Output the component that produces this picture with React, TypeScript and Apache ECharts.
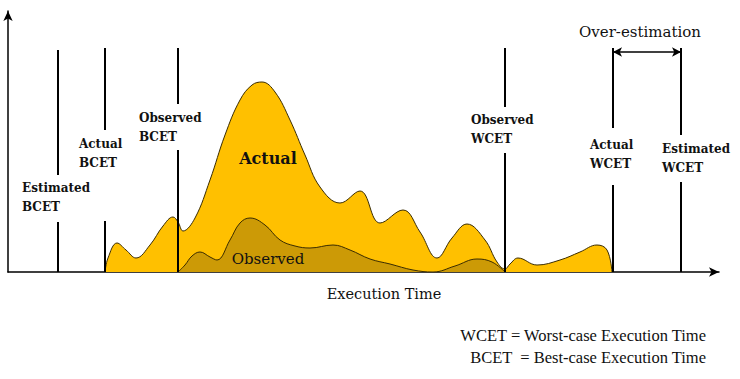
import React, { useEffect, useRef } from "react";
import * as echarts from "echarts";

// Units: x = execution time, y = frequency (arbitrary units)
const actualX = [97, 100, 109, 118, 128, 142, 155, 165, 170, 175, 187, 202, 217, 232, 244, 254, 267, 282, 297, 312, 332, 352, 372, 395, 412, 429, 444, 459, 477, 489, 497, 502, 510, 529, 552, 572, 589, 599, 604];
const actualY = [0, 14, 29, 22, 14, 27, 46, 55, 50, 41, 54, 92, 137, 172, 187, 190, 180, 152, 117, 85, 69, 81, 49, 62, 40, 14, 34, 48, 32, 10, 3, 8, 14, 7, 12, 20, 27, 22, 0];

const observedX = [170, 177, 184, 192, 202, 209, 222, 232, 242, 257, 272, 287, 302, 325, 342, 362, 382, 405, 425, 447, 469, 484, 497];
const observedY = [0, 7, 16, 20, 15, 12, 32, 49, 54, 47, 32, 26, 24, 27, 22, 13, 8, 2, 0, 6, 13, 10, 0];

const markerNames = ["Estimated\nBCET", "Actual\nBCET", "Observed\nBCET", "Observed\nWCET", "Actual\nWCET", "Estimated\nWCET"];
const markerX = [50, 97, 170, 497, 605, 673];
const markerTop = [222, 224, 224, 224, 224, 224];
const gapLow = [50, 51, 122, 119, 87, 90];
const gapHigh = [97, 142, 168, 165, 144, 137];

const overEstimation = { from: 605, to: 673, level: 220, text: "Over-estimation" };
const axisTitle = "Execution Time";
const curveLabels = ["Actual", "Observed"];
const legendLines = ["WCET = Worst-case Execution Time", "BCET  = Best-case Execution Time"];

const SERIF = "'DejaVu Serif', 'Liberation Serif', serif";
const SERIF2 = "'Liberation Serif', 'DejaVu Serif', serif";

export default function App() {
  const ref = useRef<HTMLDivElement>(null);
  useEffect(() => {
    if (!ref.current) return;
    const chart = echarts.init(ref.current, undefined, { renderer: "svg" });

    const markerSeries = markerX.map((x, i) => ({
      type: "line",
      data: [[x, 0], [x, gapLow[i]], [x, null], [x, gapHigh[i]], [x, markerTop[i]]],
      connectNulls: false,
      symbol: "none",
      lineStyle: { color: "#000", width: 2 },
      z: 5,
      silent: true,
    }));

    const labelLeft = [22, 79, 139, 471, 590, 662];
    const labelCenter = [197.5, 153, 127.5, 129, 154, 158];

    const graphics: any[] = [];
    markerNames.forEach((t, i) => {
      graphics.push({
        type: "text",
        x: labelLeft[i],
        y: labelCenter[i],
        z: 100,
        style: { text: t, font: `bold 12px ${SERIF}`, fill: "#111", lineHeight: 19, textAlign: "left", textVerticalAlign: "middle" },
      });
    });
    graphics.push({
      type: "text",
      x: 640, y: 32, z: 100,
      style: { text: overEstimation.text, font: `15px ${SERIF}`, fill: "#111", textAlign: "center", textVerticalAlign: "middle" },
    });
    graphics.push({
      type: "text",
      x: 268, y: 158, z: 100,
      style: { text: curveLabels[0], font: `bold 16px ${SERIF}`, fill: "#111", textAlign: "center", textVerticalAlign: "middle" },
    });
    graphics.push({
      type: "text",
      x: 268, y: 259, z: 100,
      style: { text: curveLabels[1], font: `15px ${SERIF}`, fill: "#111", textAlign: "center", textVerticalAlign: "middle" },
    });
    graphics.push({
      type: "text",
      x: 384, y: 294, z: 100,
      style: { text: axisTitle, font: `14.5px ${SERIF}`, fill: "#111", textAlign: "center", textVerticalAlign: "middle" },
    });
    legendLines.forEach((t, i) => {
      graphics.push({
        type: "text",
        x: 706, y: 335 + i * 22, z: 100,
        style: { text: t, font: `16.5px ${SERIF2}`, fill: "#111", textAlign: "right", textVerticalAlign: "middle" },
      });
    });

    chart.setOption({
      animation: false,
      backgroundColor: "#fff",
      grid: { left: 8, right: 21, top: 11, bottom: 107 },
      xAxis: {
        type: "value", min: 0, max: 711,
        axisLine: { show: true, symbol: ["none", "arrow"], symbolSize: [7, 10], lineStyle: { color: "#000", width: 1.5 } },
        axisTick: { show: false }, axisLabel: { show: false }, splitLine: { show: false },
      },
      yAxis: {
        type: "value", min: 0, max: 261,
        axisLine: { show: true, symbol: ["none", "arrow"], symbolSize: [7, 10], lineStyle: { color: "#000", width: 1.5 } },
        axisTick: { show: false }, axisLabel: { show: false }, splitLine: { show: false },
      },
      series: [
        {
          type: "line",
          data: actualX.map((x, i) => [x, actualY[i]]),
          smooth: 0.4,
          symbol: "none",
          lineStyle: { color: "#3a2c00", width: 1 },
          areaStyle: { color: "#FFC000", opacity: 1 },
          z: 2,
          silent: true,
        },
        {
          type: "line",
          data: observedX.map((x, i) => [x, observedY[i]]),
          smooth: 0.4,
          symbol: "none",
          lineStyle: { color: "#3a2c00", width: 1 },
          areaStyle: { color: "#CC9A06", opacity: 1 },
          z: 3,
          silent: true,
        },
        ...markerSeries,
        {
          type: "line",
          data: [],
          markLine: {
            silent: true,
            symbol: ["arrow", "arrow"],
            symbolSize: [7, 9],
            label: { show: false },
            lineStyle: { color: "#000", width: 1.5, type: "solid" },
            data: [[{ coord: [overEstimation.from, overEstimation.level] }, { coord: [overEstimation.to, overEstimation.level] }]],
          },
        },
      ],
      graphic: graphics,
    });
    return () => chart.dispose();
  }, []);
  return <div ref={ref} style={{ width: 740, height: 379, position: "absolute", left: 0, top: 0 }} />;
}
